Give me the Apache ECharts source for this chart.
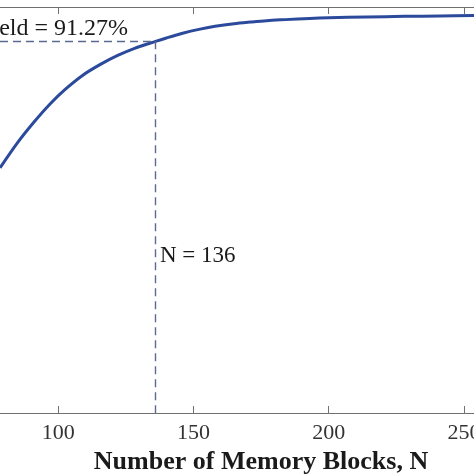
<!DOCTYPE html>
<html>
<head>
<meta charset="utf-8">
<script src="https://cdn.jsdelivr.net/npm/echarts@6/dist/echarts.min.js"></script>
<style>
html,body{margin:0;padding:0;background:#fff;}
#c{width:474px;height:474px;}
</style>
</head>
<body>
<div id="c"></div>
<script>
// Data (visible window only)
var blocksN  = [78.5, 85, 91, 97, 103, 109, 115.6, 122, 128, 136, 140, 146, 152, 158, 165, 171, 177, 184, 193, 200, 214, 228, 241, 254];
var yieldPct = [60.2, 66.4, 71.4, 75.9, 79.7, 82.9, 85.6, 87.8, 89.5, 91.27, 92.1, 93.25, 94.2, 94.95, 95.6, 96.0, 96.35, 96.6, 96.9, 97.05, 97.25, 97.4, 97.5, 97.6];
var refN = 136;
var refYield = 91.27;
var xTickValues = [100, 150, 200, 250];
var xRange = [78.5, 253.7];
var yRange = [0, 99.7];

var serif = '"Liberation Serif","DejaVu Serif",serif';
var axisColor = '#707070';
var dashColor = '#5a6a90';

var chart = echarts.init(document.getElementById('c'));
var pts = blocksN.map(function (n, i) { return [n, yieldPct[i]]; });

function xAxisDef(pos, withLabels) {
  return {
    type: 'value',
    min: xRange[0], max: xRange[1],
    position: pos,
    axisLine: { show: true, lineStyle: { color: axisColor, width: 1.2 } },
    axisTick: { show: true, inside: true, length: 7, customValues: xTickValues, lineStyle: { color: axisColor, width: 1 } },
    axisLabel: withLabels
      ? { show: true, customValues: xTickValues, fontFamily: serif, fontSize: 22, color: '#333', margin: 9, showMinLabel: true, showMaxLabel: true, hideOverlap: false }
      : { show: false },
    splitLine: { show: false }
  };
}

var bottomAxis = xAxisDef('bottom', true);
bottomAxis.name = 'Number of Memory Blocks, N';
bottomAxis.nameLocation = 'middle';
bottomAxis.nameGap = 32;
bottomAxis.nameTextStyle = { fontFamily: serif, fontWeight: 'bold', fontSize: 26, color: '#1a1a1a', padding: [0, 0, 0, 48] };

chart.setOption({
  animation: false,
  backgroundColor: '#fff',
  grid: { left: 0, right: 0, top: 7, bottom: 61, containLabel: false, outerBoundsMode: 'none' },
  xAxis: [bottomAxis, xAxisDef('top', false)],
  yAxis: {
    type: 'value', min: yRange[0], max: yRange[1],
    axisLine: { show: false },
    axisLabel: { show: false },
    axisTick: { show: false },
    splitLine: { show: false }
  },
  series: [{
    type: 'line',
    data: pts,
    smooth: 0.3,
    showSymbol: false,
    clip: false,
    lineStyle: { color: '#2b4a9c', width: 3 },
    markLine: {
      silent: true,
      symbol: ['none', 'none'],
      lineStyle: { color: dashColor, type: [8, 5], width: 1.4 },
      label: { show: false },
      data: [
        [{ coord: [xRange[0], refYield] }, { coord: [refN, refYield] }],
        [{ coord: [refN, refYield] }, { coord: [refN, yRange[0]] }]
      ]
    }
  }],
  graphic: [{
    type: 'text',
    right: 474 - 128,
    top: 17,
    style: { text: 'Yield = ' + refYield.toFixed(2) + '%', fontFamily: serif, fontSize: 24, fill: '#1a1a1a' }
  }, {
    type: 'text',
    left: 160,
    top: 244,
    style: { text: 'N = ' + refN, fontFamily: serif, fontSize: 23, fill: '#1a1a1a' }
  }]
});
</script>
</body>
</html>
